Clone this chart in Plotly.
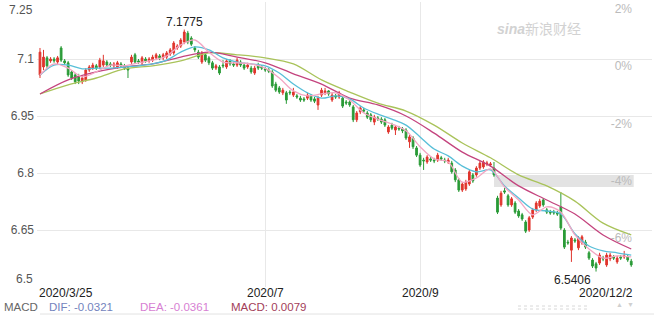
import plotly.graph_objects as go

# ---------------- data ----------------
start_label = "2020/3/25"
end_label = "2020/12/2"
x_tick_idx = [64, 108]
x_tick_text = ["2020/7", "2020/9"]
y_ticks = [7.25, 7.1, 6.95, 6.8, 6.65, 6.5]
pct_ticks = [2, 0, -2, -4, -6, -7.5]
pct_text = ["2%", "0%", "-2%", "-4%", "-6%", "-9%"]

opens = [
    7.058, 7.079, 7.103, 7.095, 7.100, 7.092, 7.129, 7.095, 7.090, 7.066,
    7.058, 7.055, 7.040, 7.045, 7.071, 7.076, 7.082, 7.079, 7.084, 7.092,
    7.087, 7.082, 7.079, 7.087, 7.082, 7.076, 7.092, 7.111, 7.095, 7.090,
    7.100, 7.095, 7.097, 7.103, 7.108, 7.103, 7.105, 7.113, 7.116, 7.129,
    7.134, 7.145, 7.168, 7.155, 7.129, 7.118, 7.092, 7.111, 7.103, 7.090,
    7.076, 7.079, 7.084, 7.079, 7.095, 7.087, 7.084, 7.092, 7.084, 7.079,
    7.076, 7.063, 7.084, 7.079, 7.074, 7.071, 7.066, 7.034, 7.024, 7.011,
    7.011, 7.013, 7.005, 7.003, 6.997, 6.995, 6.997, 7.003, 6.995, 6.979,
    7.005, 7.011, 7.016, 6.992, 7.003, 7.000, 6.997, 6.987, 6.987, 6.974,
    6.940, 6.961, 6.966, 6.958, 6.953, 6.934, 6.945, 6.942, 6.940, 6.908,
    6.926, 6.913, 6.918, 6.916, 6.913, 6.882, 6.892, 6.866, 6.847, 6.834,
    6.829, 6.837, 6.834, 6.834, 6.840, 6.834, 6.829, 6.826, 6.808, 6.782,
    6.755, 6.758, 6.771, 6.795, 6.795, 6.813, 6.816, 6.824, 6.821, 6.813,
    6.734, 6.716, 6.753, 6.740, 6.716, 6.721, 6.700, 6.690, 6.671, 6.650,
    6.684, 6.703, 6.713, 6.729, 6.703, 6.697, 6.697, 6.695, 6.711, 6.650,
    6.618, 6.597, 6.624, 6.603, 6.616, 6.618, 6.590, 6.571, 6.561, 6.563,
    6.576, 6.558, 6.574, 6.579, 6.566, 6.579, 6.579, 6.579, 6.568,
]
closes = [
    7.118, 7.105, 7.082, 7.100, 7.095, 7.103, 7.097, 7.090, 7.058, 7.050,
    7.040, 7.042, 7.050, 7.071, 7.079, 7.084, 7.076, 7.097, 7.095, 7.084,
    7.084, 7.087, 7.090, 7.082, 7.076, 7.071, 7.105, 7.092, 7.092, 7.103,
    7.095, 7.100, 7.105, 7.111, 7.103, 7.111, 7.116, 7.124, 7.142, 7.134,
    7.150, 7.171, 7.145, 7.139, 7.124, 7.105, 7.116, 7.097, 7.090, 7.076,
    7.082, 7.063, 7.082, 7.095, 7.087, 7.084, 7.097, 7.084, 7.076, 7.084,
    7.066, 7.076, 7.076, 7.076, 7.071, 7.068, 7.029, 7.018, 7.013, 7.018,
    6.992, 7.011, 7.013, 7.000, 6.992, 6.992, 7.005, 6.992, 6.989, 6.997,
    7.018, 7.016, 7.008, 7.005, 7.000, 7.011, 6.976, 6.984, 6.979, 6.940,
    6.958, 6.971, 6.963, 6.947, 6.940, 6.947, 6.942, 6.934, 6.926, 6.921,
    6.918, 6.921, 6.916, 6.911, 6.892, 6.895, 6.869, 6.847, 6.821, 6.832,
    6.842, 6.834, 6.832, 6.847, 6.837, 6.832, 6.834, 6.803, 6.782, 6.755,
    6.771, 6.776, 6.803, 6.779, 6.813, 6.826, 6.829, 6.826, 6.824, 6.795,
    6.697, 6.747, 6.750, 6.716, 6.732, 6.697, 6.687, 6.679, 6.647, 6.682,
    6.703, 6.721, 6.726, 6.716, 6.697, 6.695, 6.695, 6.692, 6.655, 6.605,
    6.616, 6.629, 6.621, 6.629, 6.632, 6.605, 6.576, 6.555, 6.550, 6.584,
    6.574, 6.584, 6.584, 6.576, 6.576, 6.576, 6.582, 6.571, 6.558,
]
highs = [
    7.129, 7.124, 7.108, 7.105, 7.105, 7.108, 7.134, 7.100, 7.095, 7.071,
    7.063, 7.061, 7.055, 7.076, 7.084, 7.090, 7.087, 7.103, 7.111, 7.097,
    7.092, 7.092, 7.095, 7.092, 7.087, 7.082, 7.111, 7.116, 7.100, 7.108,
    7.105, 7.105, 7.111, 7.116, 7.113, 7.116, 7.121, 7.129, 7.147, 7.139,
    7.155, 7.1775, 7.174, 7.160, 7.134, 7.124, 7.121, 7.116, 7.108, 7.095,
    7.087, 7.084, 7.097, 7.100, 7.100, 7.092, 7.103, 7.097, 7.090, 7.090,
    7.082, 7.082, 7.090, 7.084, 7.079, 7.076, 7.071, 7.040, 7.029, 7.024,
    7.016, 7.018, 7.024, 7.008, 7.003, 7.000, 7.011, 7.008, 7.000, 7.003,
    7.024, 7.024, 7.018, 7.011, 7.008, 7.016, 7.003, 6.992, 6.992, 6.979,
    6.963, 6.976, 6.971, 6.963, 6.958, 6.953, 6.950, 6.947, 6.945, 6.926,
    6.932, 6.926, 6.924, 6.921, 6.918, 6.900, 6.897, 6.871, 6.853, 6.840,
    6.847, 6.842, 6.840, 6.853, 6.845, 6.840, 6.840, 6.832, 6.813, 6.787,
    6.776, 6.782, 6.808, 6.800, 6.818, 6.832, 6.834, 6.832, 6.829, 6.829,
    6.740, 6.753, 6.761, 6.745, 6.737, 6.726, 6.705, 6.695, 6.676, 6.687,
    6.708, 6.726, 6.732, 6.734, 6.708, 6.703, 6.703, 6.700, 6.750, 6.655,
    6.624, 6.634, 6.629, 6.634, 6.637, 6.624, 6.595, 6.576, 6.566, 6.590,
    6.582, 6.590, 6.590, 6.584, 6.582, 6.584, 6.595, 6.584, 6.574,
]
lows = [
    7.050, 7.071, 7.076, 7.090, 7.090, 7.087, 7.092, 7.084, 7.053, 7.045,
    7.034, 7.034, 7.034, 7.040, 7.066, 7.071, 7.071, 7.074, 7.079, 7.079,
    7.079, 7.076, 7.074, 7.076, 7.071, 7.050, 7.087, 7.087, 7.087, 7.084,
    7.090, 7.090, 7.092, 7.097, 7.097, 7.097, 7.100, 7.108, 7.111, 7.124,
    7.129, 7.139, 7.139, 7.134, 7.118, 7.100, 7.087, 7.092, 7.084, 7.071,
    7.071, 7.058, 7.076, 7.074, 7.082, 7.079, 7.079, 7.079, 7.071, 7.074,
    7.061, 7.058, 7.071, 7.071, 7.066, 7.063, 7.024, 7.013, 7.008, 7.005,
    6.982, 7.005, 7.000, 6.995, 6.987, 6.987, 6.992, 6.987, 6.984, 6.966,
    7.000, 7.005, 7.003, 6.987, 6.995, 6.995, 6.971, 6.979, 6.974, 6.934,
    6.934, 6.955, 6.958, 6.942, 6.934, 6.926, 6.937, 6.929, 6.921, 6.903,
    6.913, 6.900, 6.911, 6.905, 6.887, 6.866, 6.863, 6.842, 6.816, 6.808,
    6.824, 6.829, 6.826, 6.829, 6.832, 6.826, 6.824, 6.798, 6.776, 6.750,
    6.750, 6.753, 6.766, 6.774, 6.790, 6.808, 6.811, 6.818, 6.816, 6.790,
    6.692, 6.711, 6.745, 6.711, 6.711, 6.692, 6.682, 6.674, 6.642, 6.645,
    6.679, 6.697, 6.708, 6.711, 6.692, 6.690, 6.690, 6.687, 6.650, 6.600,
    6.611, 6.566, 6.616, 6.597, 6.611, 6.600, 6.571, 6.550, 6.5406, 6.558,
    6.568, 6.553, 6.568, 6.571, 6.561, 6.571, 6.574, 6.566, 6.553,
]

ma_fast_idx = list(range(0, 169, 4))
ma_slow_idx = list(range(0, 169, 8))
ma5 = [7.058, 7.087, 7.076, 7.053, 7.066, 7.084, 7.082, 7.090, 7.097, 7.108,
       7.137, 7.150, 7.118, 7.092, 7.090, 7.087, 7.076, 7.050, 7.016, 7.003,
       7.008, 7.011, 6.992, 6.958, 6.942, 6.929, 6.911, 6.869, 6.837, 6.829,
       6.776, 6.787, 6.811, 6.763, 6.729, 6.690, 6.711, 6.697, 6.637, 6.600,
       6.576, 6.582, 6.579]
ma10 = [7.058, 7.084, 7.084, 7.074, 7.076, 7.076, 7.079, 7.082, 7.087, 7.097,
        7.118, 7.132, 7.124, 7.103, 7.092, 7.087, 7.082, 7.063, 7.034, 7.011,
        6.997, 7.003, 6.995, 6.971, 6.955, 6.942, 6.926, 6.895, 6.863, 6.845,
        6.818, 6.803, 6.808, 6.766, 6.734, 6.705, 6.700, 6.692, 6.640, 6.608,
        6.595, 6.590, 6.584]
ma20 = [7.008, 7.045, 7.066, 7.079, 7.087, 7.105, 7.118, 7.105, 7.090, 7.061,
        7.034, 6.997, 6.979, 6.950, 6.905, 6.855, 6.818, 6.766, 6.729, 6.692,
        6.637, 6.600]
ma30 = [7.008, 7.032, 7.050, 7.074, 7.082, 7.095, 7.116, 7.111, 7.103, 7.087,
        7.045, 7.013, 6.984, 6.963, 6.926, 6.879, 6.840, 6.795, 6.766, 6.726,
        6.668, 6.637]

macd_labels = [("MACD", "#666666"), ("DIF: -0.0321", "#7383bd"),
               ("DEA: -0.0361", "#d77fd3"), ("MACD: 0.0079", "#a3405a")]

# ---------------- figure ----------------
idx = list(range(len(closes)))
W, H = 654, 317
ML, MR, MT, MB = 37, 2, 2, 30
pw, ph = W - ML - MR, H - MT - MB


def px(xp):
    return (xp - ML) / pw


def py(yp):
    return (H - MB - yp) / ph


RED, GREEN = "#e0352d", "#2a9b37"
font = "Liberation Sans, Arial, sans-serif"

fig = go.Figure()
fig.add_trace(go.Candlestick(
    x=idx, open=opens, high=highs, low=lows, close=closes,
    increasing=dict(line=dict(color=RED, width=1), fillcolor=RED),
    decreasing=dict(line=dict(color=GREEN, width=1), fillcolor=GREEN),
    whiskerwidth=0, hoverinfo="skip", showlegend=False,
))

for xs, vals, col in [(ma_slow_idx, ma30, "#a9c35a"),
                      (ma_slow_idx, ma20, "#c4447e"),
                      (ma_fast_idx, ma10, "#58bfd8"),
                      (ma_fast_idx, ma5, "#f3a6c3")]:
    fig.add_trace(go.Scatter(
        x=xs, y=vals, mode="lines",
        line=dict(color=col, width=1.3, shape="spline", smoothing=0.9),
        hoverinfo="skip", showlegend=False,
    ))

# helper trace to show the right percentage axis
fig.add_trace(go.Scatter(x=[0], y=[0], yaxis="y2", mode="markers",
                         marker=dict(opacity=0), hoverinfo="skip",
                         showlegend=False))

DATE_Y = py(293)
MACD_Y = py(307)
dfont = dict(size=12, color="#222222", family=font)
ann = []
ann.append(dict(xref="paper", yref="y", x=0, y=y_ticks[0], xanchor="right",
                yanchor="top", xshift=-2, yshift=1, text="7.25", showarrow=False,
                font=dict(size=12, color="#555555", family=font)))
ann.append(dict(xref="paper", yref="y", x=0, y=y_ticks[-1], xanchor="right",
                yanchor="bottom", xshift=-2, yshift=-1, text="6.5", showarrow=False,
                font=dict(size=12, color="#555555", family=font)))

# max / min labels
imax = highs.index(max(highs))
imin = lows.index(min(lows))
ann.append(dict(x=imax, y=highs[imax], xanchor="center", yanchor="bottom",
                text=f"{highs[imax]:.4f}", showarrow=False, yshift=-1,
                font=dfont))
ann.append(dict(x=imin, y=lows[imin], xanchor="right", yanchor="top",
                text=f"{lows[imin]:.4f}", showarrow=False, xshift=-3, yshift=1,
                font=dfont))

# date labels
ann.append(dict(xref="x", yref="paper", x=0, y=DATE_Y, xanchor="left",
                yanchor="middle", xshift=-3, text=start_label, showarrow=False,
                font=dfont))
for xi, tx in zip(x_tick_idx, x_tick_text):
    ann.append(dict(xref="x", yref="paper", x=xi, y=DATE_Y, xanchor="center",
                    yanchor="middle", text=tx, showarrow=False, font=dfont))
ann.append(dict(xref="x", yref="paper", x=len(closes) - 1, y=DATE_Y,
                xanchor="right", yanchor="middle", xshift=4, text=end_label,
                showarrow=False, font=dfont))

# MACD legend row
starts = [2, 47, 138, 229]
for (txt, col), sx in zip(macd_labels, starts):
    ann.append(dict(xref="paper", yref="paper", x=px(sx), y=MACD_Y,
                    xanchor="left", yanchor="middle", text=txt, showarrow=False,
                    font=dict(size=11.5, color=col, family=font)))

# watermark
ann.append(dict(xref="paper", yref="paper", x=px(539), y=py(29),
                xanchor="center", yanchor="middle",
                text="<b><i>sina</i></b>新浪财经", showarrow=False,
                font=dict(size=14, color="#d2d2d2",
                          family="Liberation Sans, Noto Sans CJK SC")))

# scroll arrows
ann.append(dict(xref="paper", yref="paper", x=px(625), y=py(309.5),
                text="▲", showarrow=False, font=dict(size=7, color="#d0d0d0")))
ann.append(dict(xref="paper", yref="paper", x=px(636), y=py(309.5),
                text="▼", showarrow=False, font=dict(size=7, color="#d0d0d0")))

shapes = [
    dict(type="rect", xref="x", yref="y", x0=129, x1=168.7, y0=6.763, y1=6.795,
         fillcolor="#e3e3e3", line=dict(width=0), layer="below"),
    dict(type="line", xref="paper", yref="paper", x0=px(40), x1=px(654),
         y0=py(314), y1=py(314), line=dict(color="#e2e2e2", width=1)),
    dict(type="line", xref="paper", yref="paper", x0=px(518), x1=px(590),
         y0=py(306), y1=py(306), line=dict(color="#d8d8d8", width=1, dash="dot")),
    dict(type="line", xref="paper", yref="paper", x0=px(518), x1=px(590),
         y0=py(309), y1=py(309), line=dict(color="#d8d8d8", width=1, dash="dot")),
]

fig.update_layout(
    width=W, height=H,
    margin=dict(l=ML, r=MR, t=MT, b=MB, pad=0),
    paper_bgcolor="white", plot_bgcolor="white",
    font=dict(family=font, size=12, color="#555555"),
    showlegend=False,
    annotations=ann, shapes=shapes,
    xaxis=dict(range=[-0.85, 173.9], tickvals=x_tick_idx, showticklabels=False,
               showgrid=True, gridcolor="#e8e8e8", gridwidth=1, zeroline=False,
               showline=False, ticks="", rangeslider=dict(visible=False),
               fixedrange=True),
    yaxis=dict(range=[6.5, 7.25], tickvals=y_ticks,
               ticktext=["", "7.1", "6.95", "6.8", "6.65", ""],
               showgrid=True, gridcolor="#e8e8e8", gridwidth=1, zeroline=False,
               showline=False, ticks="", ticklabelstandoff=2,
               tickfont=dict(size=12, color="#555555", family=font)),
    yaxis2=dict(range=[-7.72, 2.245], overlaying="y", side="right",
                tickvals=pct_ticks, ticktext=pct_text, showgrid=False,
                zeroline=False, showline=False, ticks="",
                ticklabelposition="inside", ticklabelstandoff=17,
                tickfont=dict(size=12, color="#bbbbbb", family=font)),
)

fig.write_html("out.html")
